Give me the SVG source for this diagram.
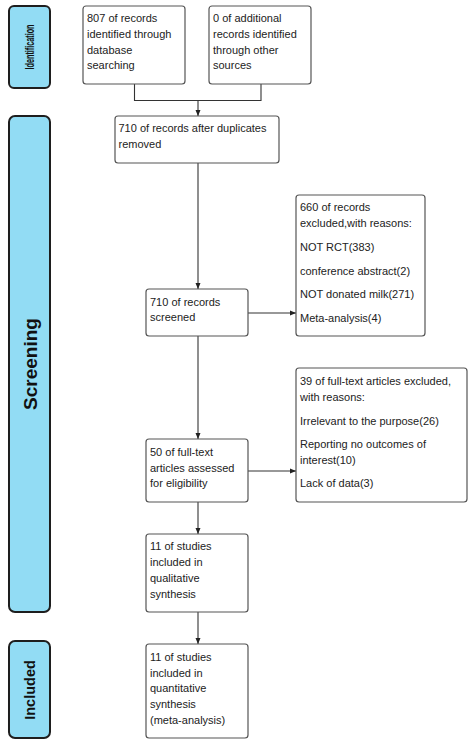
<svg xmlns="http://www.w3.org/2000/svg" width="474" height="746" viewBox="0 0 474 746">
<defs>
<marker id="ah" viewBox="0 0 6 6" refX="6" refY="3" markerWidth="6" markerHeight="6" markerUnits="userSpaceOnUse" orient="auto">
<path d="M0,0.5 L6,3 L0,5.5 Z" fill="#222"/>
</marker>
<style>
.stage{fill:#92dcf4;stroke:#1e1e1e;stroke-width:2}
.box{fill:#fff;stroke:#555;stroke-width:1.2}
.t{font-family:"Liberation Sans",Arial,sans-serif;font-size:11px;fill:#222}
.lab{font-family:"Liberation Sans",Arial,sans-serif;font-weight:bold;fill:#111}
.c{fill:none;stroke:#333;stroke-width:1.1}
</style>
</defs>
<rect width="474" height="746" fill="#fff"/>

<g id="stage-identification">
<rect class="stage" x="9" y="6" width="41" height="82" rx="5"/>
<text class="lab" font-size="13" text-anchor="middle" transform="translate(34,47) rotate(-90) scale(0.556,1)">Identification</text>
</g>
<g id="stage-screening">
<rect class="stage" x="9" y="116" width="41" height="496" rx="6"/>
<text class="lab" font-size="19" text-anchor="middle" transform="translate(37,364) rotate(-90)">Screening</text>
</g>
<g id="stage-included">
<rect class="stage" x="9" y="641" width="41" height="97" rx="6"/>
<text class="lab" font-size="14.5" text-anchor="middle" transform="translate(35,690) rotate(-90)">Included</text>
</g>

<g id="connectors">
<path class="c" d="M134.5,84 V100.5 H261 V84"/>
<path class="c" d="M198,100.5 V116" marker-end="url(#ah)"/>
<path class="c" d="M198,163 V289" marker-end="url(#ah)"/>
<path class="c" d="M248,313 H296" marker-end="url(#ah)"/>
<path class="c" d="M198,336 V439" marker-end="url(#ah)"/>
<path class="c" d="M248,471 H296" marker-end="url(#ah)"/>
<path class="c" d="M198,502 V534" marker-end="url(#ah)"/>
<path class="c" d="M198,612 V644" marker-end="url(#ah)"/>
</g>

<g id="n-db">
<rect class="box" x="83" y="6" width="102" height="78" rx="3"/>
<text class="t" x="87" y="22">807 of records</text>
<text class="t" x="87" y="37.5">identified through</text>
<text class="t" x="87" y="53.5">database</text>
<text class="t" x="87" y="69">searching</text>
</g>
<g id="n-other">
<rect class="box" x="209" y="6" width="102" height="78" rx="3"/>
<text class="t" x="213" y="22">0 of additional</text>
<text class="t" x="213" y="37.5">records identified</text>
<text class="t" x="213" y="53.5">through other</text>
<text class="t" x="213" y="69">sources</text>
</g>
<g id="n-dedup">
<rect class="box" x="115" y="116" width="164" height="47" rx="3"/>
<text class="t" x="118.5" y="132">710 of records after duplicates</text>
<text class="t" x="118.5" y="148">removed</text>
</g>
<g id="n-screened">
<rect class="box" x="146" y="289" width="102" height="47" rx="3"/>
<text class="t" x="150" y="306">710 of records</text>
<text class="t" x="150" y="321">screened</text>
</g>
<g id="n-excl1">
<rect class="box" x="296" y="195" width="129" height="141" rx="3"/>
<text class="t" x="300" y="211.3">660 of records</text>
<text class="t" x="300" y="227.3">excluded,with reasons:</text>
<text class="t" x="300" y="250.7">NOT RCT(383)</text>
<text class="t" x="300" y="274.7">conference abstract(2)</text>
<text class="t" x="300" y="298.3">NOT donated milk(271)</text>
<text class="t" x="300" y="321.7">Meta-analysis(4)</text>
</g>
<g id="n-fulltext">
<rect class="box" x="146" y="439" width="102" height="63" rx="3"/>
<text class="t" x="150" y="455.7">50 of full-text</text>
<text class="t" x="150" y="471.7">articles assessed</text>
<text class="t" x="150" y="487.3">for eligibility</text>
</g>
<g id="n-excl2">
<rect class="box" x="296" y="368" width="171" height="134" rx="3"/>
<text class="t" x="300" y="384.7">39 of full-text articles excluded,</text>
<text class="t" x="300" y="400.7">with reasons:</text>
<text class="t" x="300" y="424.7">Irrelevant to the purpose(26)</text>
<text class="t" x="300" y="448">Reporting no outcomes of</text>
<text class="t" x="300" y="464">interest(10)</text>
<text class="t" x="300" y="487.3">Lack of data(3)</text>
</g>
<g id="n-qual">
<rect class="box" x="146" y="534" width="102" height="78" rx="3"/>
<text class="t" x="150" y="550">11 of studies</text>
<text class="t" x="150" y="566">included in</text>
<text class="t" x="150" y="582">qualitative</text>
<text class="t" x="150" y="598">synthesis</text>
</g>
<g id="n-quant">
<rect class="box" x="146" y="644" width="102" height="94" rx="3"/>
<text class="t" x="150" y="661.3">11 of studies</text>
<text class="t" x="150" y="676.7">included in</text>
<text class="t" x="150" y="692.3">quantitative</text>
<text class="t" x="150" y="708">synthesis</text>
<text class="t" x="150" y="724">(meta-analysis)</text>
</g>
</svg>
